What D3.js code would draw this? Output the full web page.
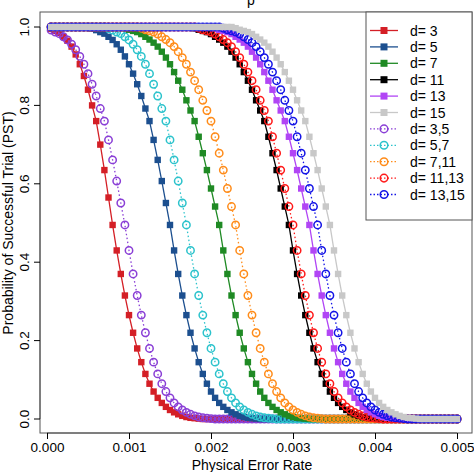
<!DOCTYPE html>
<html><head><meta charset="utf-8">
<script src="https://cdn.jsdelivr.net/npm/d3@7"></script>
<style>body{margin:0;background:#fff}svg{font-family:"Liberation Sans",Arial,sans-serif}</style>
</head><body><svg id="c" width="474" height="472"></svg>
<script>
// x positions: p = 0.00005 * i, i = 1..100
const errorRates = Array.from({length:100},(_,i)=>+(0.00005*(i+1)).toFixed(5));
const xTicks = [0,0.001,0.002,0.003,0.004,0.005];
const yTicks = [0,0.2,0.4,0.6,0.8,1.0];
const labels = ["d= 3","d= 5","d= 7","d= 11","d= 13","d= 15","d= 3,5","d= 5,7","d= 7,11","d= 11,13","d= 13,15"];
const colors = ["#d41f26","#1c4f8f","#1f8a24","#000000","#b145f5","#c8c8c8","#8a3fd6","#2cc3cc","#ff8c1a","#ff1a1a","#1414e6"];
const solid = [true,true,true,true,true,true,false,false,false,false,false];

const pst_d3 = [.995,.99,.985,.975,.965,.95,.93,.905,.875,.84,.80,.76,.70,.635,.565,.495,.43,.37,.315,.265,.22,.18,.145,.115,.09,.07,.054,.041,.031,.023,.017,.012,.008,.005,.003,.002,.001,
0,0,0,0,0,0,0,0,0,0,0,0,0,0,0,0,0,0,0,0,0,0,0,0,0,0,0,0,0,0,0,0,0,0,0,0,0,0,0,0,0,0,0,0,0,0,0,0,0,0,0,0,0,0,0,0,0,0,0,0,0,0,0];
const pst_d5 = [1,1,1,1,1,1,1,1,1,1,.996,.992,.987,.983,.975,.967,.956,.942,.925,.905,.881,.854,.824,.792,.76,.712,.661,.607,.551,.495,.43,.37,.315,.265,.22,.18,.145,.115,.09,.07,.054,.041,.031,.023,.017,.012,.008,.005,.003,.002,.001,
0,0,0,0,0,0,0,0,0,0,0,0,0,0,0,0,0,0,0,0,0,0,0,0,0,0,0,0,0,0,0,0,0,0,0,0,0,0,0,0,0,0,0,0,0,0,0,0,0];
const pst_d7 = [1,1,1,1,1,1,1,1,1,1,1,1,1,1,1,1,1,1,.997,.993,.99,.987,.982,.975,.968,.96,.95,.937,.922,.905,.885,.863,.84,.813,.787,.76,.72,.678,.635,.588,.542,.495,.43,.37,.315,.265,.22,.18,.145,.115,.09,.07,.054,.041,.031,.023,.017,.012,.008,.005,.003,.002,.001,
0,0,0,0,0,0,0,0,0,0,0,0,0,0,0,0,0,0,0,0,0,0,0,0,0,0,0,0,0,0,0,0,0,0,0,0,0];
const pst_d11 = [1,1,1,1,1,1,1,1,1,1,1,1,1,1,1,1,1,1,1,1,1,1,1,1,1,1,1,1,1,1,1,1,1,1,1,.997,.993,.99,.987,.982,.975,.968,.96,.95,.937,.922,.905,.885,.863,.84,.813,.787,.76,.72,.678,.635,.588,.542,.495,.43,.37,.315,.265,.22,.18,.145,.115,.09,.07,.054,.041,.031,.023,.017,.012,.008,.005,.003,.002,.001,
0,0,0,0,0,0,0,0,0,0,0,0,0,0,0,0,0,0,0,0];
const pst_d13 = [1,1,1,1,1,1,1,1,1,1,1,1,1,1,1,1,1,1,1,1,1,1,1,1,1,1,1,1,1,1,1,1,1,1,1,1,1,1,1,1,.997,.993,.99,.987,.982,.975,.968,.96,.95,.937,.922,.905,.885,.863,.84,.813,.787,.76,.72,.678,.635,.588,.542,.495,.43,.37,.315,.265,.22,.18,.145,.115,.09,.07,.054,.041,.031,.023,.017,.012,.008,.005,.003,.002,.001,
0,0,0,0,0,0,0,0,0,0,0,0,0,0,0];
const pst_d15 = [1,1,1,1,1,1,1,1,1,1,1,1,1,1,1,1,1,1,1,1,1,1,1,1,1,1,1,1,1,1,1,1,1,1,1,1,1,1,1,1,1,1,1,1,1,.997,.993,.99,.987,.982,.975,.968,.96,.95,.937,.922,.905,.885,.863,.84,.813,.787,.76,.72,.678,.635,.588,.542,.495,.43,.37,.315,.265,.22,.18,.145,.115,.09,.07,.054,.041,.031,.023,.017,.012,.008,.005,.003,.002,.001,
0,0,0,0,0,0,0,0,0,0];
const pst_d3_5 = [.992,.987,.983,.975,.967,.956,.942,.925,.905,.881,.854,.824,.792,.76,.712,.661,.607,.551,.495,.43,.37,.315,.265,.22,.18,.145,.115,.09,.07,.054,.041,.031,.023,.017,.012,.008,.005,.003,.002,.001,
0,0,0,0,0,0,0,0,0,0,0,0,0,0,0,0,0,0,0,0,0,0,0,0,0,0,0,0,0,0,0,0,0,0,0,0,0,0,0,0,0,0,0,0,0,0,0,0,0,0,0,0,0,0,0,0,0,0,0,0];
const pst_d5_7 = [1,1,1,1,1,1,1,1,1,1,1,1,1,1,.996,.992,.987,.983,.975,.967,.956,.942,.925,.905,.881,.854,.824,.792,.76,.712,.661,.607,.551,.495,.43,.37,.315,.265,.22,.18,.145,.115,.09,.07,.054,.041,.031,.023,.017,.012,.008,.005,.003,.002,.001,
0,0,0,0,0,0,0,0,0,0,0,0,0,0,0,0,0,0,0,0,0,0,0,0,0,0,0,0,0,0,0,0,0,0,0,0,0,0,0,0,0,0,0,0,0];
const pst_d7_11 = [1,1,1,1,1,1,1,1,1,1,1,1,1,1,1,1,1,1,1,1,1,1,.997,.993,.99,.987,.982,.975,.968,.96,.95,.937,.922,.905,.885,.863,.84,.813,.787,.76,.72,.678,.635,.588,.542,.495,.43,.37,.315,.265,.22,.18,.145,.115,.09,.07,.054,.041,.031,.023,.017,.012,.008,.005,.003,.002,.001,
0,0,0,0,0,0,0,0,0,0,0,0,0,0,0,0,0,0,0,0,0,0,0,0,0,0,0,0,0,0,0,0,0];
const pst_d11_13 = [1,1,1,1,1,1,1,1,1,1,1,1,1,1,1,1,1,1,1,1,1,1,1,1,1,1,1,1,1,1,1,1,1,1,1,1,.997,.993,.99,.987,.982,.975,.968,.96,.95,.937,.922,.905,.885,.863,.84,.813,.787,.76,.72,.678,.635,.588,.542,.495,.43,.37,.315,.265,.22,.18,.145,.115,.09,.07,.054,.041,.031,.023,.017,.012,.008,.005,.003,.002,.001,
0,0,0,0,0,0,0,0,0,0,0,0,0,0,0,0,0,0,0];
const pst_d13_15 = [1,1,1,1,1,1,1,1,1,1,1,1,1,1,1,1,1,1,1,1,1,1,1,1,1,1,1,1,1,1,1,1,1,1,1,1,1,1,1,1,1,1,.997,.993,.99,.987,.982,.975,.968,.96,.95,.937,.922,.905,.885,.863,.84,.813,.787,.76,.72,.678,.635,.588,.542,.495,.43,.37,.315,.265,.22,.18,.145,.115,.09,.07,.054,.041,.031,.023,.017,.012,.008,.005,.003,.002,.001,
0,0,0,0,0,0,0,0,0,0,0,0,0];
const seriesValues = [pst_d3,pst_d5,pst_d7,pst_d11,pst_d13,pst_d15,pst_d3_5,pst_d5_7,pst_d7_11,pst_d11_13,pst_d13_15];
const legendOrder = [0,1,2,3,4,5,6,7,8,9,10];

const svg = d3.select("#c");
const x = d3.scaleLinear().domain([0,0.005]).range([47,457]);
const y = d3.scaleLinear().domain([0,1]).range([419,27]);
const L=40,T=12,R=472,B=433;

const drawOrder = [0,6,1,7,2,8,3,9,4,10,5];
const line = d3.line().x((d,i)=>x(errorRates[i])).y(d=>y(d));
const g = svg.append("g");
drawOrder.forEach(s=>{
  const vals = seriesValues[s];
  const gg = g.append("g");
  gg.append("path").attr("d",line(vals)).attr("fill","none").attr("stroke",colors[s])
    .attr("stroke-width",1.3).attr("stroke-dasharray",solid[s]?null:"1.5,2.5");
  vals.forEach((v,i)=>{
    if(solid[s]) gg.append("rect").attr("x",x(errorRates[i])-3.2).attr("y",y(v)-3.2).attr("width",6.4).attr("height",6.4).attr("fill",colors[s]);
    else gg.append("circle").attr("cx",x(errorRates[i])).attr("cy",y(v)).attr("r",3.7).attr("fill","none").attr("stroke",colors[s]).attr("stroke-width",1.5);
  });
});

svg.append("rect").attr("x",L).attr("y",T).attr("width",R-L).attr("height",B-T).attr("fill","none").attr("stroke","#555").attr("stroke-width",1);

const xa = svg.append("g").attr("transform",`translate(0,${B})`)
  .call(d3.axisBottom(x).tickValues(xTicks).tickFormat(d3.format(".3f")).tickSize(6).tickSizeOuter(0));
xa.select(".domain").attr("d",`M${x(0)},0H${x(0.005)}`).attr("stroke","#555");
xa.selectAll("text").attr("font-size",13.5).attr("fill","#000");
const ya = svg.append("g").attr("transform",`translate(${L},0)`)
  .call(d3.axisLeft(y).tickValues(yTicks).tickFormat(d3.format(".1f")).tickSize(6).tickSizeOuter(0));
ya.select(".domain").attr("d",`M0,${y(0)}V${y(1)}`).attr("stroke","#555");
ya.selectAll("text").attr("font-size",13.5).attr("fill","#000")
  .attr("transform",function(d){return `translate(${-11},${y(d)}) rotate(-90)`}).attr("x",0).attr("y",0).attr("dy","0").attr("text-anchor","middle");
ya.selectAll(".tick").attr("transform",null).each(function(d){d3.select(this).select("line").attr("y1",y(d)).attr("y2",y(d))});

svg.append("text").attr("x",(x(0)+x(0.005))/2).attr("y",470).attr("text-anchor","middle").attr("font-size",14).text("Physical Error Rate");
svg.append("text").attr("transform",`translate(13,${(y(0)+y(1))/2}) rotate(-90)`).attr("text-anchor","middle").attr("font-size",14).text("Probability of Successful Trial (PST)");
svg.append("text").attr("x",251).attr("y",5).attr("text-anchor","middle").attr("font-size",14).text("p");

const lg = svg.append("g");
lg.append("rect").attr("x",366).attr("y",12).attr("width",106).attr("height",208).attr("fill","#fff").attr("stroke","#555");
legendOrder.forEach((s,k)=>{
  const yy = 30.5 + k*16.4;
  lg.append("line").attr("x1",370).attr("x2",398).attr("y1",yy).attr("y2",yy).attr("stroke",colors[s]).attr("stroke-width",1.3).attr("stroke-dasharray",solid[s]?null:"1.5,2");
  if(solid[s]) lg.append("rect").attr("x",380.5).attr("y",yy-3.5).attr("width",7).attr("height",7).attr("fill",colors[s]);
  else lg.append("circle").attr("cx",384).attr("cy",yy).attr("r",3.8).attr("fill","none").attr("stroke",colors[s]).attr("stroke-width",1.5);
  lg.append("text").attr("x",410).attr("y",yy+5).attr("font-size",14).text(labels[s]);
});
</script></body></html>
